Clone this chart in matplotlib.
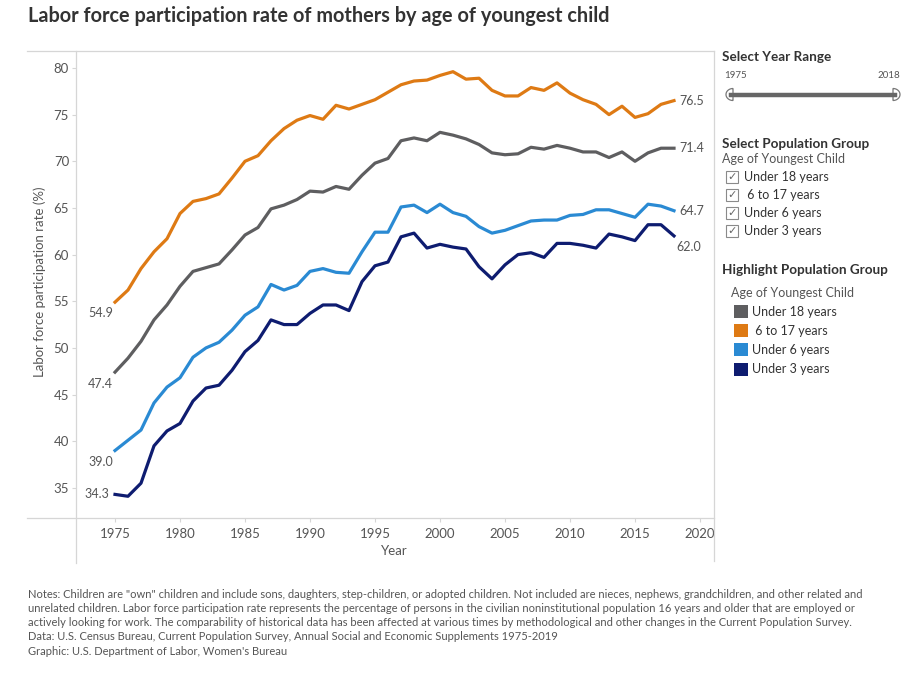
import matplotlib
matplotlib.use("Agg")
import numpy as np
import matplotlib.pyplot as plt
from matplotlib.lines import Line2D
from matplotlib.patches import Rectangle, Polygon

W, H = 911, 675

years = list(range(1975, 2019))
under18 = [47.4, 48.9, 50.7, 53.0, 54.6, 56.6, 58.2, 58.6, 59.0, 60.5,
           62.1, 62.9, 64.9, 65.3, 65.9, 66.8, 66.7, 67.3, 67.0, 68.5,
           69.8, 70.3, 72.2, 72.5, 72.2, 73.1, 72.8, 72.4, 71.8, 70.9,
           70.7, 70.8, 71.5, 71.3, 71.7, 71.4, 71.0, 71.0, 70.4, 71.0,
           70.0, 70.9, 71.4, 71.4]
age6to17 = [54.9, 56.2, 58.5, 60.3, 61.7, 64.4, 65.7, 66.0, 66.5, 68.2,
            70.0, 70.6, 72.2, 73.5, 74.4, 74.9, 74.5, 76.0, 75.6, 76.1,
            76.6, 77.4, 78.2, 78.6, 78.7, 79.2, 79.6, 78.8, 78.9, 77.6,
            77.0, 77.0, 77.9, 77.6, 78.4, 77.3, 76.6, 76.1, 75.0, 75.9,
            74.7, 75.1, 76.1, 76.5]
under6 = [39.0, 40.1, 41.2, 44.1, 45.8, 46.8, 49.0, 50.0, 50.6, 51.9,
          53.5, 54.4, 56.8, 56.2, 56.7, 58.2, 58.5, 58.1, 58.0, 60.3,
          62.4, 62.4, 65.1, 65.3, 64.5, 65.4, 64.5, 64.1, 63.0, 62.3,
          62.6, 63.1, 63.6, 63.7, 63.7, 64.2, 64.3, 64.8, 64.8, 64.4,
          64.0, 65.4, 65.2, 64.7]
under3 = [34.3, 34.1, 35.5, 39.5, 41.1, 41.9, 44.3, 45.7, 46.0, 47.6,
          49.6, 50.8, 53.0, 52.5, 52.5, 53.7, 54.6, 54.6, 54.0, 57.1,
          58.8, 59.2, 61.9, 62.3, 60.7, 61.1, 60.8, 60.6, 58.7, 57.4,
          58.9, 60.0, 60.2, 59.7, 61.2, 61.2, 61.0, 60.7, 62.2, 61.9,
          61.5, 63.2, 63.2, 62.0]

groups = ["Under 18 years", " 6 to 17 years", "Under 6 years", "Under 3 years"]
colors = ["#5e5e60", "#de7a14", "#2a8ad3", "#0e1c70"]
series = [under18, age6to17, under6, under3]

x_ticks = [1975, 1980, 1985, 1990, 1995, 2000, 2005, 2010, 2015, 2020]
y_ticks = [35, 40, 45, 50, 55, 60, 65, 70, 75, 80]

title = "Labor force participation rate of mothers by age of youngest child"
notes = [
    'Notes: Children are "own" children and include sons, daughters, step-children, or adopted children. Not included are nieces, nephews, grandchildren, and other related and',
    "unrelated children. Labor force participation rate represents the percentage of persons in the civilian noninstitutional population 16 years and older that are employed or",
    "actively looking for work. The comparability of historical data has been affected at various times by methodological and other changes in the Current Population Survey.",
    "Data: U.S. Census Bureau, Current Population Survey, Annual Social and Economic Supplements 1975-2019",
    "Graphic: U.S. Department of Labor, Women's Bureau",
]

plt.rcParams["font.family"] = ["Lato", "DejaVu Sans"]
TXT = "#555555"
DARK = "#333333"
LINE = "#d6d6d6"


def fx(x):
    return x / W


def fy(y):
    return 1 - y / H


fig = plt.figure(figsize=(W / 100, H / 100), dpi=100)
ax = fig.add_axes([fx(76), fy(518), fx(713) - fx(76), fy(50.7) - fy(518)])

for vals, c in zip(series, colors):
    ax.plot(years, vals, color=c, lw=2.3, solid_joinstyle="round")

ax.set_xlim(1972.0, 2021.0)
ax.set_ylim(31.77, 81.85)
ax.set_xticks(x_ticks)
ax.set_yticks(y_ticks)
ax.tick_params(colors=LINE, labelcolor=TXT, labelsize=9.5, length=3, width=0.8)
ax.tick_params(axis="y", pad=2)
ax.tick_params(axis="x", pad=4)
for s in ax.spines.values():
    s.set_visible(False)

# first / last value labels
start_off = [(-2, -12), (-2, -11), (-2, -11), (-6, 0)]
end_off = [(5, 0), (5, 0), (5, 0), (2, -11)]
for vals, so, eo in zip(series, start_off, end_off):
    ax.annotate(f"{vals[0]:.1f}", (years[0], vals[0]), xytext=so, textcoords="offset pixels",
                ha="right", va="center", fontsize=9, color=TXT)
    ax.annotate(f"{vals[-1]:.1f}", (years[-1], vals[-1]), xytext=eo, textcoords="offset pixels",
                ha="left", va="center", fontsize=9, color=TXT)

# frame lines
for (x0, y0, x1, y1) in [(27, 50.7, 713.5, 50.7), (27, 518, 713.5, 518),
                         (76, 50.7, 76, 563), (713.5, 50.7, 713.5, 561)]:
    fig.add_artist(Line2D([fx(x0), fx(x1)], [fy(y0), fy(y1)], color=LINE, lw=0.9))

fig.text(fx(28), fy(16), title, fontsize=14.3, fontweight="bold", color=DARK, va="center")
fig.text(fx(40), fy(282), "Labor force participation rate (%)", rotation=90,
         fontsize=9.5, color=TXT, ha="center", va="center")
fig.text(fx(394.5), fy(551), "Year", fontsize=9.5, color=TXT, ha="center", va="center")

for i, line in enumerate(notes):
    fig.text(fx(28), fy(594 + i * 14.3), line, fontsize=8, color=TXT, va="center")

# right panel: year range slider
fig.text(fx(722), fy(57), "Select Year Range", fontsize=9.7, fontweight="bold", color=DARK, va="center")
fig.text(fx(724), fy(75), "1975", fontsize=7, color=TXT, va="center")
fig.text(fx(900), fy(75), "2018", fontsize=7, color=TXT, va="center", ha="right")
fig.add_artist(Line2D([fx(731), fx(895)], [fy(94.5), fy(94.5)], color="#666666", lw=3.2))
for cx, side in [(733, -1), (893, 1)]:
    th = np.linspace(-np.pi / 2, np.pi / 2, 30)
    px = cx + side * 7 * np.cos(th)
    py = 94.5 + 6 * np.sin(th)
    pts = [(fx(a), fy(b)) for a, b in zip(px, py)]
    fig.add_artist(Polygon(pts, closed=True, facecolor="white", edgecolor="#777777",
                           lw=0.9, transform=fig.transFigure))

# population group checkboxes
fig.text(fx(722), fy(144), "Select Population Group", fontsize=9.7, fontweight="bold", color=DARK, va="center")
fig.text(fx(722), fy(159), "Age of Youngest Child", fontsize=9, color=TXT, va="center")
for i, g in enumerate(groups):
    yc = 177 + i * 18
    fig.add_artist(Rectangle((fx(726), fy(yc + 6)), 12 / W, 12 / H, facecolor="white",
                             edgecolor="#8a8a8a", lw=0.8, transform=fig.transFigure))
    fig.text(fx(732), fy(yc), "\u2713", fontsize=8, color="#666666", ha="center", va="center",
             family="DejaVu Sans")
    fig.text(fx(744), fy(yc), g, fontsize=9, color=DARK, va="center")

# highlight legend
fig.text(fx(722), fy(270), "Highlight Population Group", fontsize=9.7, fontweight="bold", color=DARK, va="center")
fig.text(fx(731), fy(293), "Age of Youngest Child", fontsize=9, color=TXT, va="center")
for i, (g, c) in enumerate(zip(groups, colors)):
    yc = 311.5 + i * 19.2
    fig.add_artist(Rectangle((fx(734), fy(yc + 6.5)), 14 / W, 13 / H, facecolor=c,
                             edgecolor="none", transform=fig.transFigure))
    fig.text(fx(752), fy(yc), g, fontsize=9, color=DARK, va="center")

fig.savefig("out.png", dpi=100)
